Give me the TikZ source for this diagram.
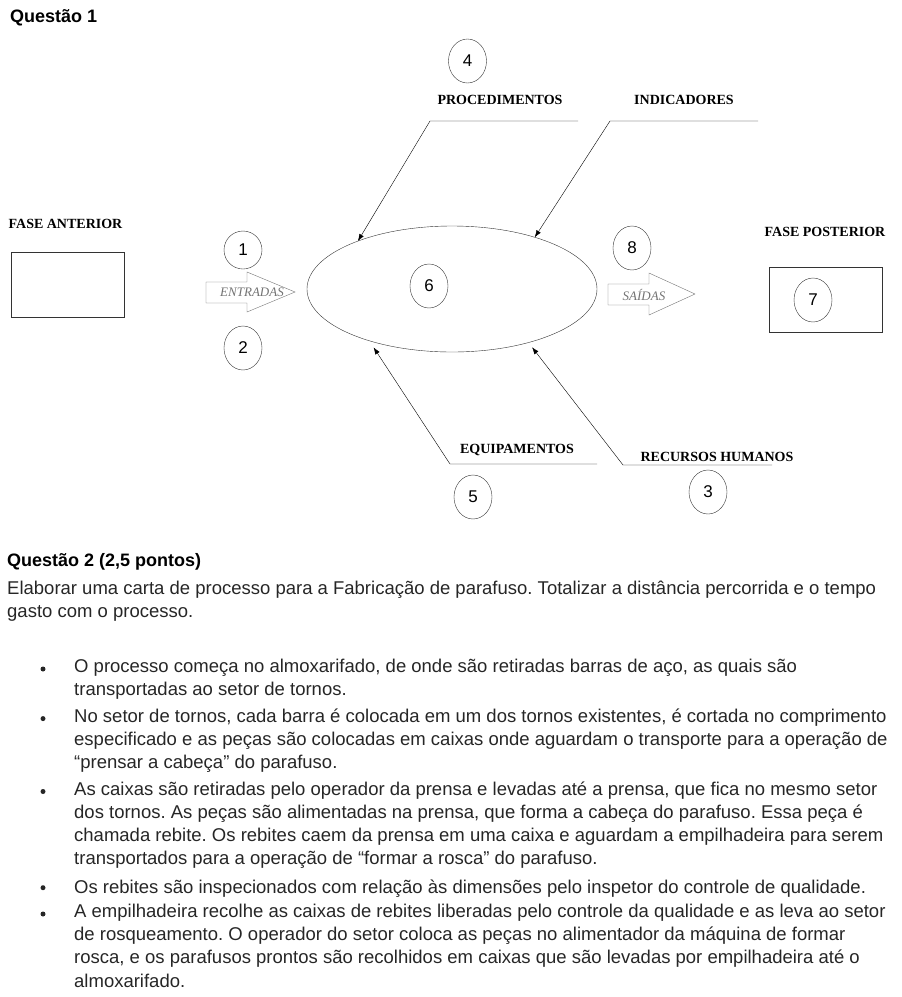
\documentclass[tikz,border=0pt]{standalone}
\usepackage{fontspec}
\setmainfont{Liberation Serif}
\setsansfont{Liberation Sans}
\usetikzlibrary{arrows.meta,shapes.geometric}
\frenchspacing

\begin{document}
\begin{tikzpicture}[x=1pt,y=-1pt,>={Latex[length=7pt,width=5pt]}]
    \tikzstyle{num} = [draw=black!80,ellipse,minimum width=38pt,minimum height=44pt,inner sep=0pt,font=\sffamily\fontsize{17}{17}\selectfont]
    \tikzstyle{lbl} = [inner sep=0pt,font=\bfseries\fontsize{14}{14}\selectfont]
    \tikzstyle{phase} = [draw=black!80,minimum width=113pt,minimum height=65pt]
    \tikzstyle{io} = [draw=black!55]
    \tikzstyle{iotext} = [inner sep=0pt,text=black!55,font=\itshape\fontsize{13}{13}\selectfont]
    \tikzstyle{head} = [anchor=base west,inner sep=0pt,font=\sffamily\bfseries\fontsize{18}{22}\selectfont]
    \tikzstyle{body} = [anchor=north west,align=left,inner sep=0pt,text=black!85,execute at begin node=\strut,font=\sffamily\fontsize{18.5}{23.3}\selectfont]
    \tikzstyle{dot} = [circle,fill=black!85,inner sep=0pt,minimum size=5pt]
    \useasboundingbox (0,0) rectangle (902,997);

    % Questao 1
    \node [head] (q1) at (10,22) {Questão 1};
    \node [draw=black!80,ellipse,minimum width=290pt,minimum height=126pt,inner sep=0pt,outer sep=0pt] (proc) at (452,289) {};
    \node [num] (n6) at (429,286) {6};
    \node [lbl] (fant) at (65.5,224) {FASE ANTERIOR};
    \node [phase] (ant) at (67.5,285) {};
    \node [lbl] (fpost) at (825,232) {FASE POSTERIOR};
    \node [phase] (post) at (825.5,300) {};
    \node [num] (n7) at (813,300) {7};
    \node [num,minimum height=38pt] (n1) at (243,250) {1};
    \node [num] (n2) at (243,348) {2};
    \node [num] (n8) at (632,248) {8};
    \node [num] (n4) at (467.5,61) {4};
    \node [num] (n5) at (473,497) {5};
    \node [num] (n3) at (708,492) {3};

    % entradas / saidas
    \draw [io] (206,282) -- (247,282) -- (247,272) -- (295,292) -- (247,312) -- (247,303) -- (206,303) -- cycle;
    \node [iotext] (entr) at (252,292) {ENTRADAS};
    \draw [io] (608,284) -- (649,284) -- (649,273) -- (695,294) -- (649,315) -- (649,305) -- (608,305) -- cycle;
    \node [iotext] (said) at (644,295) {SAÍDAS};

    % controles e recursos
    \node [lbl] (tproc) at (500,100) {PROCEDIMENTOS};
    \coordinate (procL) at (430,121);
    \coordinate (procR) at (578,121);
    \draw [->] (procR) -- (procL) -- (proc.153);
    \node [lbl] (tind) at (684,100) {INDICADORES};
    \coordinate (indL) at (610,121);
    \coordinate (indR) at (758,121);
    \draw [->] (indR) -- (indL) -- (proc.32);
    \node [lbl] (tequ) at (517,450) {EQUIPAMENTOS};
    \coordinate (equL) at (450,464);
    \coordinate (equR) at (597,464);
    \draw [->,shorten >=8pt] (equR) -- (equL) -- (proc.212);
    \node [lbl] (trh) at (717,457) {RECURSOS HUMANOS};
    \coordinate (rhL) at (623,465);
    \coordinate (rhR) at (772,465);
    \draw [->,shorten >=6pt] (rhR) -- (rhL) -- (proc.325);

    % Questao 2 (north west = baseline - 16.31)
    \node [head] (q2) at (7,566) {Questão 2 (2,5 pontos)};
    \node [body] (intro) at (7,580.69) {Elaborar uma carta de processo para a Fabricação de parafuso. Totalizar a distância percorrida e o tempo\\gasto com o processo.};
    \node [body] (it1) at (74,658.69) {O processo começa no almoxarifado, de onde são retiradas barras de aço, as quais são\\transportadas ao setor de tornos.};
    \node [body] (it2) at (74,708.29) {No setor de tornos, cada barra é colocada em um dos tornos existentes, é cortada no comprimento\\especificado e as peças são colocadas em caixas onde aguardam o transporte para a operação de\\“prensar a cabeça” do parafuso.};
    \node [body] (it3) at (74,781.19) {As caixas são retiradas pelo operador da prensa e levadas até a prensa, que fica no mesmo setor\\dos tornos. As peças são alimentadas na prensa, que forma a cabeça do parafuso. Essa peça é\\chamada rebite. Os rebites caem da prensa em uma caixa e aguardam a empilhadeira para serem\\transportados para a operação de “formar a rosca” do parafuso.};
    \node [body] (it4) at (74,877.39) {Os rebites são inspecionados com relação às dimensões pelo inspetor do controle de qualidade.};
    \node [body] (it5) at (74,903.69) {A empilhadeira recolhe as caixas de rebites liberadas pelo controle da qualidade e as leva ao setor\\de rosqueamento. O operador do setor coloca as peças no alimentador da máquina de formar\\rosca, e os parafusos prontos são recolhidos em caixas que são levadas por empilhadeira até o\\almoxarifado.};
    \foreach \y [count=\i] in {675,724.6,797.5,893.7,920}
      \node [dot] (dot\i) at (43,\y-6) {};
  \end{tikzpicture}
\end{document}
